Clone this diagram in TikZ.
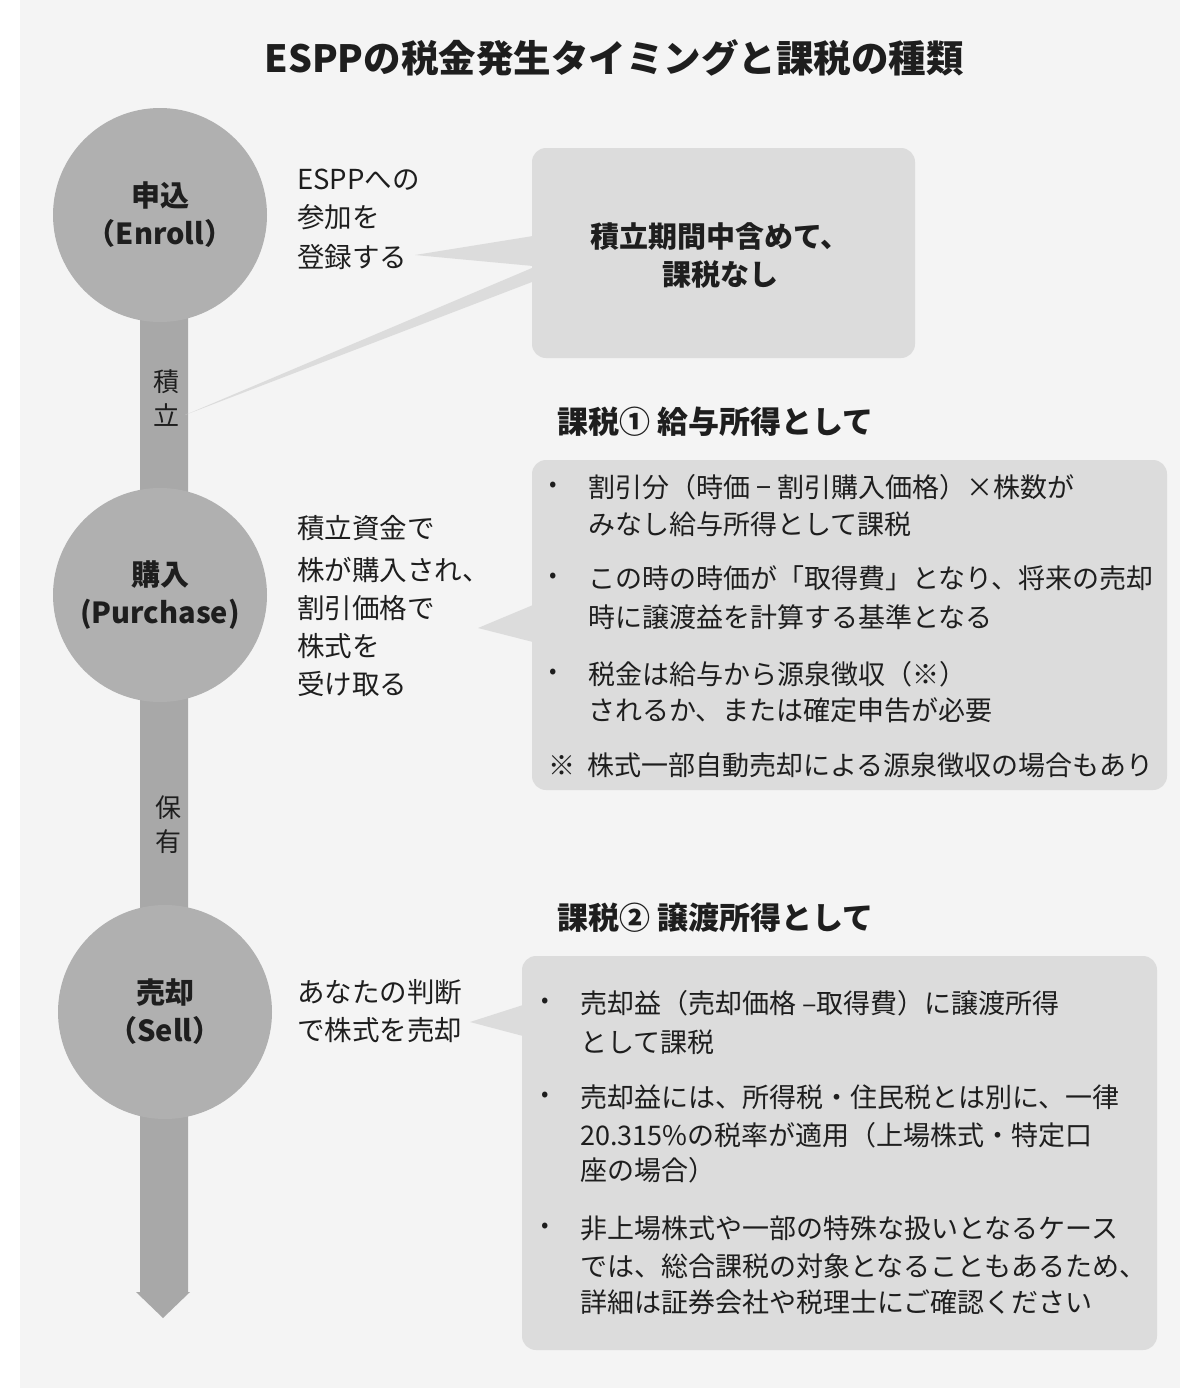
\documentclass[tikz,border=0pt]{standalone}
\usepackage{fontspec}
\setmainfont{Noto Sans CJK JP}
\begin{document}
\begin{tikzpicture}[x=1pt,y=-1pt,
  bx/.style={fill=boxc,rounded corners=14pt,draw=none},
  t/.style={anchor=west,inner sep=0pt,font=\fontsize{27.5}{30}\selectfont,text=txt},
  tw/.style={anchor=west,inner sep=0pt,font=\fontsize{27}{30}\selectfont,text=txt},
  cl/.style={align=center,font=\bfseries\fontsize{29}{38}\selectfont,text=txt},
  hd/.style={anchor=west,inner sep=0pt,font=\bfseries\fontsize{31}{34}\selectfont,text=txt},
  bul/.style={anchor=center,inner sep=0pt,font=\fontsize{22}{26}\selectfont,text=txt}]
\definecolor{boxc}{HTML}{DCDCDC}
\definecolor{txt}{HTML}{1E1E1E}
\definecolor{barc}{HTML}{A8A8A8}
\definecolor{cir}{HTML}{B0B0B0}
\definecolor{bg}{HTML}{F4F4F4}
\useasboundingbox (0,0) rectangle (1200,1395);
\fill[white] (0,0) rectangle (1200,1395);
\fill[bg] (20,0) rectangle (1180,1388);
\node[font=\bfseries\fontsize{37.5}{42}\selectfont,text=txt] (title) at (614,58) {ESPPの税金発生タイミングと課税の種類};
% bar
\fill[barc] (140,300) -- (188,300) -- (188,1292) -- (190,1292) -- (163,1318) -- (136,1292) -- (140,1292) -- cycle;
\fill[cir] (160,215) circle (107);
\fill[cir] (160,595) circle (107);
\fill[cir] (165,1012) circle (107);
\node[cl] (c1) at (160,215) {申込\\（Enroll）};
\node[cl] (c2) at (160,595) {購入\\(Purchase)};
\node[cl] (c3) at (165,1012) {売却\\（Sell）};
\node[t,anchor=center,align=center,font=\fontsize{26}{34}\selectfont] (v1) at (166,398) {積\\立};
\node[t,anchor=center,align=center,font=\fontsize{26}{34}\selectfont] (v2) at (168,825) {保\\有};
% left texts
\foreach \s/\y in {ESPPへの/180,参加を/217,登録する/257} \node[t] at (297,\y) {\s};
\foreach \s/\y in {積立資金で/528,株が購入され、/570,割引価格で/608,株式を/646,受け取る/684} \node[t] at (297,\y) {\s};
\foreach \s/\y in {あなたの判断/992,で株式を売却/1030} \node[t] at (297,\y) {\s};
% box1
\fill[boxc] (532,268) -- (532,282) -- (185,415) -- cycle;
\fill[boxc] (533,236) -- (533,266) -- (415,255) -- cycle;
\node[bx,minimum width=383,minimum height=210] (b1) at (723.5,253) {};
\node[cl,font=\bfseries\fontsize{29}{38}\selectfont] (b1t) at (720,255) {積立期間中含めて、\\課税なし};
% box2
\node[hd] (h1) at (557,422) {課税① 給与所得として};
\fill[boxc] (533,605) -- (533,642) -- (478,628) -- cycle;
\node[bx,minimum width=635,minimum height=330] (b2) at (849.5,625) {};
\foreach \y in {487,578,674} \node[bul] at (553,\y) {•};
\foreach \s/\y in {割引分（時価 − 割引購入価格）×株数が/487,みなし給与所得として課税/524,この時の時価が「取得費」となり、将来の売却/578,時に譲渡益を計算する基準となる/617,税金は給与から源泉徴収（※）/674,されるか、または確定申告が必要/710} \node[tw] at (588,\y) {\s};
\node[tw] at (548,765) {※\ \ 株式一部自動売却による源泉徴収の場合もあり};
% box3
\node[hd] (h2) at (557,918) {課税② 譲渡所得として};
\fill[boxc] (523,1005) -- (523,1036) -- (470,1022) -- cycle;
\node[bx,minimum width=635,minimum height=394] (b3) at (839.5,1153) {};
\foreach \y in {1003,1097,1228} \node[bul] at (545,\y) {•};
\foreach \s/\y in {売却益（売却価格 –取得費）に譲渡所得/1003,として課税/1042,売却益には、所得税・住民税とは別に、一律/1097,20.315\%の税率が適用（上場株式・特定口/1135,座の場合）/1170,非上場株式や一部の特殊な扱いとなるケース/1228,では、総合課税の対象となることもあるため、/1266,詳細は証券会社や税理士にご確認ください/1302} \node[tw] at (580,\y) {\s};
\end{tikzpicture}
\end{document}
